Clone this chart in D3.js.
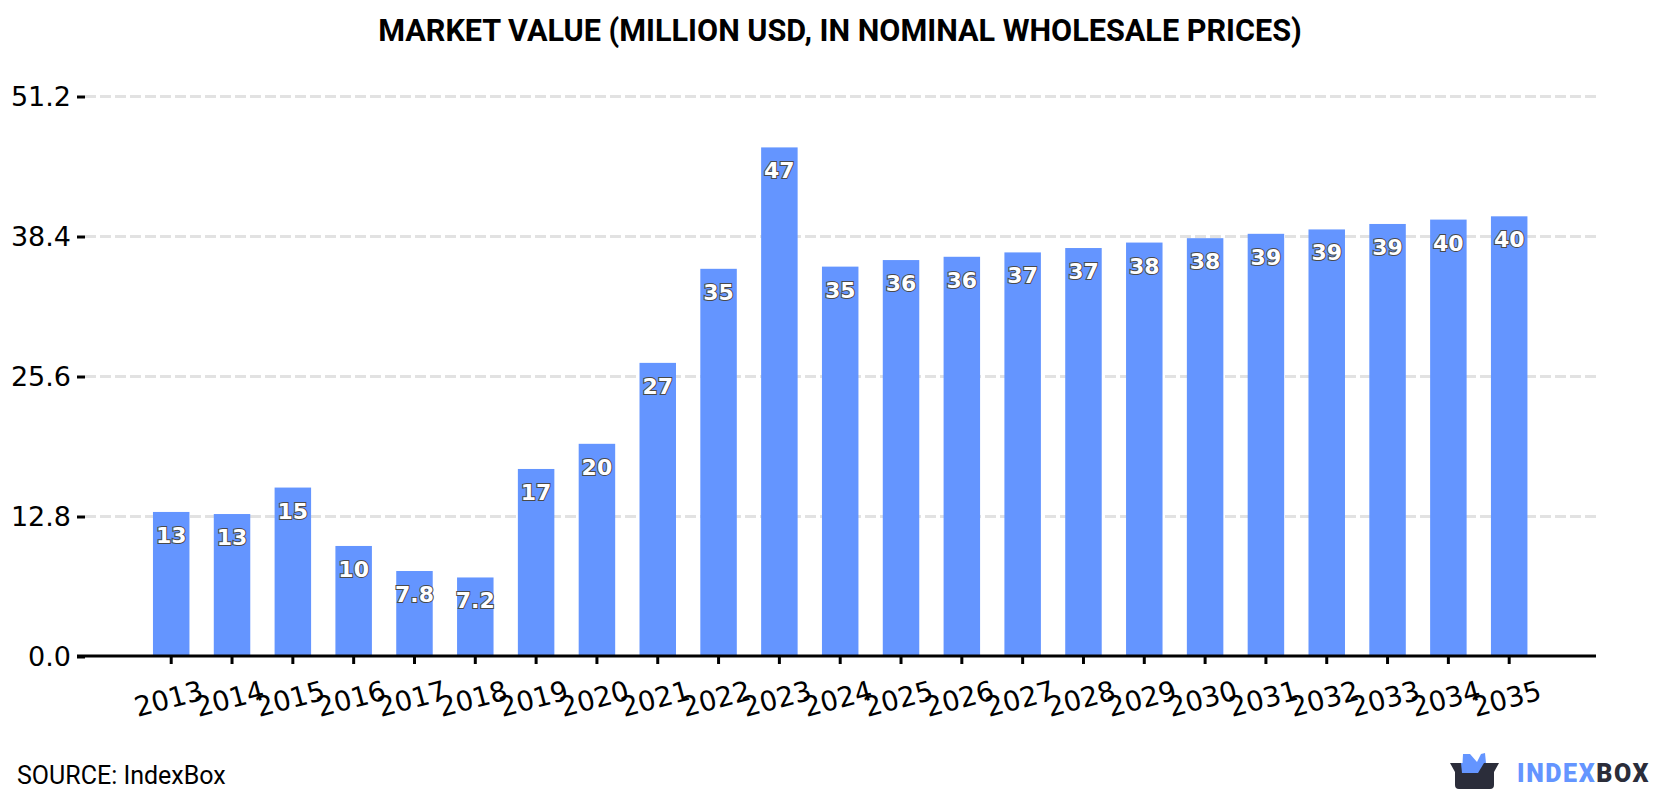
<!DOCTYPE html>
<html>
<head>
<meta charset="utf-8">
<script src="https://cdn.jsdelivr.net/npm/d3@7/dist/d3.min.js"></script>
<style>
  html, body { margin: 0; padding: 0; background: #fff; }
  svg { display: block; }
</style>
</head>
<body>
<svg id="chart" width="1680" height="800"></svg>
<script>
const years = ["2013","2014","2015","2016","2017","2018","2019","2020","2021","2022","2023","2024","2025","2026","2027","2028","2029","2030","2031","2032","2033","2034","2035"];
const marketValue = [13.17,12.98,15.4,10.06,7.77,7.18,17.1,19.4,26.8,35.4,46.5,35.6,36.2,36.5,36.9,37.3,37.8,38.2,38.6,39.0,39.5,39.9,40.2];
const valueLabels = ["13","13","15","10","7.8","7.2","17","20","27","35","47","35","36","36","37","37","38","38","39","39","39","40","40"];
const yTicks = [0, 12.8, 25.6, 38.4, 51.2];
const titleText = "MARKET VALUE (MILLION USD, IN NOMINAL WHOLESALE PRICES)";
const sourceText = "SOURCE: IndexBox";

const BAR = "#6495ff", INK = "#000", GRID = "#e2e2e2", DARK = "#2b2d3a";
const DEJAVU = "'DejaVu Sans', sans-serif", ROBOTO = "Roboto, sans-serif";
const left = 85, right = 1596, baseY = 656, topY = 96;

const svg = d3.select("#chart");

const x = d3.scaleBand().domain(years).range([140.8, 1539.6]).paddingInner(0.4).paddingOuter(0.2);
const y = d3.scaleLinear().domain([0, 51.2]).range([baseY, topY]);

// Title
svg.append("text").attr("x", 840).attr("y", 41).attr("text-anchor", "middle")
  .attr("font-family", ROBOTO).attr("font-weight", 700).attr("font-size", 30.6)
  .attr("fill", INK).text(titleText);

// Dashed horizontal grid
svg.append("g").selectAll("line").data(yTicks.filter(d => d > 0)).join("line")
  .attr("x1", left).attr("x2", right)
  .attr("y1", d => y(d) + 0.5).attr("y2", d => y(d) + 0.5)
  .attr("stroke", GRID).attr("stroke-width", 3).attr("stroke-dasharray", "11 4");

// Bars
svg.append("g").selectAll("rect").data(years).join("rect")
  .attr("x", d => x(d)).attr("width", x.bandwidth())
  .attr("y", (d, i) => y(marketValue[i]))
  .attr("height", (d, i) => baseY - y(marketValue[i]))
  .attr("fill", BAR);

// Y axis: ticks and labels only
const yAxis = svg.append("g").attr("transform", `translate(${left},0.5)`)
  .call(d3.axisLeft(y).tickValues(yTicks).tickFormat(d3.format(".1f")).tickSize(8).tickPadding(6));
yAxis.select(".domain").remove();
yAxis.selectAll("line").attr("stroke", INK).attr("stroke-width", 3);
yAxis.selectAll("text").attr("font-family", DEJAVU).attr("font-size", 27).attr("fill", INK);

// X axis: baseline, ticks and slanted year labels
const xAxis = svg.append("g").attr("transform", `translate(0,${baseY})`)
  .call(d3.axisBottom(x).tickSize(8).tickSizeOuter(0).tickPadding(0));
xAxis.select(".domain").remove();
xAxis.selectAll("line").attr("stroke", INK).attr("stroke-width", 3);
xAxis.selectAll("text")
  .attr("font-family", DEJAVU).attr("font-size", 27.5).attr("fill", INK)
  .attr("text-anchor", "middle").attr("dy", null).attr("y", null)
  .attr("transform", "translate(0,52) rotate(-15)");
svg.append("line").attr("x1", 77).attr("x2", right).attr("y1", baseY).attr("y2", baseY)
  .attr("stroke", INK).attr("stroke-width", 3);

// Value labels inside each bar
svg.append("g").selectAll("text").data(years).join("text")
  .attr("x", d => x(d) + x.bandwidth() / 2)
  .attr("y", (d, i) => y(marketValue[i]) + 31)
  .attr("text-anchor", "middle")
  .attr("font-family", DEJAVU).attr("font-weight", 700).attr("font-size", 22)
  .attr("fill", "#fff").attr("stroke", "#4a4a4a").attr("stroke-width", 2)
  .attr("paint-order", "stroke")
  .text((d, i) => valueLabels[i]);

// Source line
svg.append("text").attr("x", 17).attr("y", 784)
  .attr("font-family", ROBOTO).attr("font-size", 25).attr("fill", INK).text(sourceText);

// Brand mark
const logo = svg.append("g");
logo.append("path").attr("fill", BAR)
  .attr("d", "M1462 773 L1463 754 L1470 754 L1477 762 L1481 754 L1485 753 L1487 773 Z");
logo.append("path").attr("fill", DARK)
  .attr("d", "M1450 763 L1499 763 L1494 772 L1494 785 Q1494 789 1490 789 L1459 789 Q1455 789 1455 785 L1455 772 Z");
logo.append("path").attr("fill", BAR)
  .attr("d", "M1461 763 L1484 763 L1478 773 L1462 773 Z");
const brand = svg.append("text").attr("x", 1517).attr("y", 782)
  .attr("font-family", ROBOTO).attr("font-weight", 900).attr("font-size", 25).attr("letter-spacing", 1.6);
brand.append("tspan").attr("fill", BAR).text("INDEX");
brand.append("tspan").attr("fill", DARK).text("BOX");
</script>
</body>
</html>
